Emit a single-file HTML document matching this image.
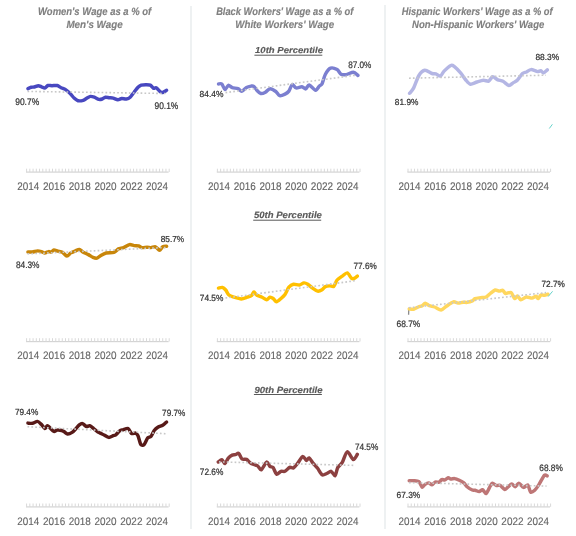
<!DOCTYPE html><html><head><meta charset="utf-8"><style>html,body{margin:0;padding:0;background:#fff;}svg{display:block;will-change:transform;}text{text-rendering:geometricPrecision;font-kerning:none;}</style></head><body>
<svg width="576" height="536" viewBox="0 0 576 536" font-family='"Liberation Sans", sans-serif'>
<rect width="576" height="536" fill="#fff"/>
<rect x="190" y="6" width="2" height="523" fill="#eef1f2"/>
<rect x="384" y="5" width="2" height="524" fill="#eef1f2"/>
<text x="37.91" y="15.30" font-size="10.756" textLength="113.30" lengthAdjust="spacingAndGlyphs" fill="#808080" font-weight="bold" font-style="italic" stroke="#808080" stroke-width="0.15" stroke-linejoin="round">Women&#39;s Wage as a % of</text>
<text x="66.43" y="27.50" font-size="10.611" textLength="56.35" lengthAdjust="spacingAndGlyphs" fill="#808080" font-weight="bold" font-style="italic" stroke="#808080" stroke-width="0.15" stroke-linejoin="round">Men&#39;s Wage</text>
<text x="216.14" y="15.30" font-size="10.756" textLength="137.29" lengthAdjust="spacingAndGlyphs" fill="#808080" font-weight="bold" font-style="italic" stroke="#808080" stroke-width="0.15" stroke-linejoin="round">Black Workers&#39; Wage as a % of</text>
<text x="235.29" y="27.60" font-size="10.683" textLength="98.88" lengthAdjust="spacingAndGlyphs" fill="#808080" font-weight="bold" font-style="italic" stroke="#808080" stroke-width="0.15" stroke-linejoin="round">White Workers&#39; Wage</text>
<text x="401.84" y="15.20" font-size="10.756" textLength="150.79" lengthAdjust="spacingAndGlyphs" fill="#808080" font-weight="bold" font-style="italic" stroke="#808080" stroke-width="0.15" stroke-linejoin="round">Hispanic Workers&#39; Wage as a % of</text>
<text x="412.03" y="27.80" font-size="10.683" textLength="132.23" lengthAdjust="spacingAndGlyphs" fill="#808080" font-weight="bold" font-style="italic" stroke="#808080" stroke-width="0.15" stroke-linejoin="round">Non-Hispanic Workers&#39; Wage</text>
<text x="255.05" y="53.30" font-size="8.694" textLength="67.92" lengthAdjust="spacingAndGlyphs" fill="#595959" font-weight="bold" font-style="italic" stroke="#595959" stroke-width="0.15" stroke-linejoin="round">10th Percentile</text>
<rect x="254.40" y="54.70" width="67.90" height="1" fill="#595959"/>
<text x="253.91" y="218.30" font-size="9.246" textLength="67.96" lengthAdjust="spacingAndGlyphs" fill="#595959" font-weight="bold" font-style="italic" stroke="#595959" stroke-width="0.15" stroke-linejoin="round">50th Percentile</text>
<rect x="253.20" y="219.70" width="68.00" height="1" fill="#595959"/>
<text x="254.48" y="392.50" font-size="8.970" textLength="68.09" lengthAdjust="spacingAndGlyphs" fill="#595959" font-weight="bold" font-style="italic" stroke="#595959" stroke-width="0.15" stroke-linejoin="round">90th Percentile</text>
<rect x="253.90" y="394.00" width="68.00" height="1" fill="#595959"/>
<rect x="26.00" y="171.50" width="142.60" height="1.2" fill="#d4d4d4"/>
<path d="M26.60 168.70v3.3M29.84 168.70v3.3M33.08 168.70v3.3M36.32 168.70v3.3M39.56 168.70v3.3M42.80 168.70v3.3M46.05 168.70v3.3M49.29 168.70v3.3M52.53 168.70v3.3M55.77 168.70v3.3M59.01 168.70v3.3M62.25 168.70v3.3M65.49 168.70v3.3M68.73 168.70v3.3M71.97 168.70v3.3M75.21 168.70v3.3M78.45 168.70v3.3M81.70 168.70v3.3M84.94 168.70v3.3M88.18 168.70v3.3M91.42 168.70v3.3M94.66 168.70v3.3M97.90 168.70v3.3M101.14 168.70v3.3M104.38 168.70v3.3M107.62 168.70v3.3M110.86 168.70v3.3M114.10 168.70v3.3M117.35 168.70v3.3M120.59 168.70v3.3M123.83 168.70v3.3M127.07 168.70v3.3M130.31 168.70v3.3M133.55 168.70v3.3M136.79 168.70v3.3M140.03 168.70v3.3M143.27 168.70v3.3M146.51 168.70v3.3M149.75 168.70v3.3M153.00 168.70v3.3M156.24 168.70v3.3M159.48 168.70v3.3M162.72 168.70v3.3M165.96 168.70v3.3M169.20 168.70v3.3" stroke="#d9d9d9" stroke-width="1" fill="none"/>
<text x="17.30" y="189.70" font-size="11.028" textLength="21.99" lengthAdjust="spacingAndGlyphs" fill="#646464" stroke="#646464" stroke-width="0.12" stroke-linejoin="round">2014</text>
<text x="43.04" y="189.70" font-size="11.028" textLength="22.14" lengthAdjust="spacingAndGlyphs" fill="#646464" stroke="#646464" stroke-width="0.12" stroke-linejoin="round">2016</text>
<text x="68.78" y="189.70" font-size="11.028" textLength="22.13" lengthAdjust="spacingAndGlyphs" fill="#646464" stroke="#646464" stroke-width="0.12" stroke-linejoin="round">2018</text>
<text x="94.52" y="189.70" font-size="11.028" textLength="22.09" lengthAdjust="spacingAndGlyphs" fill="#646464" stroke="#646464" stroke-width="0.12" stroke-linejoin="round">2020</text>
<text x="120.26" y="189.70" font-size="11.028" textLength="22.20" lengthAdjust="spacingAndGlyphs" fill="#646464" stroke="#646464" stroke-width="0.12" stroke-linejoin="round">2022</text>
<text x="146.00" y="189.70" font-size="11.028" textLength="21.99" lengthAdjust="spacingAndGlyphs" fill="#646464" stroke="#646464" stroke-width="0.12" stroke-linejoin="round">2024</text>
<path d="M27.90 88.60C28.33 88.43 30.23 87.51 31.10 87.30C31.97 87.09 33.44 87.21 34.40 87.00C35.36 86.79 37.35 85.73 38.30 85.70C39.25 85.67 40.63 86.48 41.50 86.80C42.37 87.12 43.93 88.27 44.80 88.10C45.67 87.93 47.04 85.82 48.00 85.50C48.96 85.18 50.77 85.70 52.00 85.70C53.23 85.70 55.99 85.23 57.20 85.50C58.41 85.77 59.98 87.15 61.10 87.70C62.22 88.25 64.39 88.83 65.60 89.60C66.81 90.37 69.07 92.37 70.20 93.50C71.33 94.63 73.06 97.14 74.10 98.10C75.14 99.06 76.79 100.41 78.00 100.70C79.21 100.99 81.99 100.65 83.20 100.30C84.41 99.95 86.14 98.62 87.10 98.10C88.06 97.58 89.44 96.52 90.40 96.40C91.36 96.28 93.17 96.80 94.30 97.20C95.43 97.60 97.85 99.16 98.90 99.40C99.95 99.64 101.33 99.29 102.20 99.00C103.07 98.71 104.45 97.37 105.40 97.20C106.35 97.03 108.26 97.58 109.30 97.70C110.34 97.82 112.07 97.82 113.20 98.10C114.33 98.38 116.67 99.75 117.80 99.80C118.93 99.85 120.57 98.61 121.70 98.50C122.83 98.39 125.17 99.17 126.30 99.00C127.43 98.83 129.16 98.11 130.20 97.20C131.24 96.29 133.06 93.52 134.10 92.20C135.14 90.88 137.05 88.25 138.00 87.30C138.95 86.35 140.16 85.45 141.20 85.10C142.24 84.75 144.59 84.70 145.80 84.70C147.01 84.70 149.26 84.62 150.30 85.10C151.34 85.58 152.81 87.95 153.60 88.30C154.39 88.65 155.33 87.26 156.20 87.70C157.07 88.14 159.23 90.96 160.10 91.60C160.97 92.24 161.83 92.67 162.70 92.50C163.57 92.33 166.08 90.59 166.60 90.30" fill="none" stroke="#4848c0" stroke-width="3.45" stroke-linejoin="round" stroke-linecap="round"/>
<line x1="27.5" y1="91.4" x2="165.5" y2="93.5" stroke="#c8c8c8" stroke-width="1.6" stroke-dasharray="1.7 2.2" />
<text x="15.20" y="104.90" font-size="9.596" textLength="24.00" lengthAdjust="spacingAndGlyphs" fill="#333333" stroke="#333333" stroke-width="0.22" stroke-linejoin="round">90.7%</text>
<text x="154.51" y="109.10" font-size="9.596" textLength="23.79" lengthAdjust="spacingAndGlyphs" fill="#333333" stroke="#333333" stroke-width="0.22" stroke-linejoin="round">90.1%</text>
<rect x="216.80" y="171.50" width="142.60" height="1.2" fill="#d4d4d4"/>
<path d="M217.40 168.70v3.3M220.64 168.70v3.3M223.88 168.70v3.3M227.12 168.70v3.3M230.36 168.70v3.3M233.60 168.70v3.3M236.85 168.70v3.3M240.09 168.70v3.3M243.33 168.70v3.3M246.57 168.70v3.3M249.81 168.70v3.3M253.05 168.70v3.3M256.29 168.70v3.3M259.53 168.70v3.3M262.77 168.70v3.3M266.01 168.70v3.3M269.25 168.70v3.3M272.50 168.70v3.3M275.74 168.70v3.3M278.98 168.70v3.3M282.22 168.70v3.3M285.46 168.70v3.3M288.70 168.70v3.3M291.94 168.70v3.3M295.18 168.70v3.3M298.42 168.70v3.3M301.66 168.70v3.3M304.90 168.70v3.3M308.15 168.70v3.3M311.39 168.70v3.3M314.63 168.70v3.3M317.87 168.70v3.3M321.11 168.70v3.3M324.35 168.70v3.3M327.59 168.70v3.3M330.83 168.70v3.3M334.07 168.70v3.3M337.31 168.70v3.3M340.55 168.70v3.3M343.80 168.70v3.3M347.04 168.70v3.3M350.28 168.70v3.3M353.52 168.70v3.3M356.76 168.70v3.3M360.00 168.70v3.3" stroke="#d9d9d9" stroke-width="1" fill="none"/>
<text x="207.90" y="189.70" font-size="11.028" textLength="21.99" lengthAdjust="spacingAndGlyphs" fill="#646464" stroke="#646464" stroke-width="0.12" stroke-linejoin="round">2014</text>
<text x="233.64" y="189.70" font-size="11.028" textLength="22.14" lengthAdjust="spacingAndGlyphs" fill="#646464" stroke="#646464" stroke-width="0.12" stroke-linejoin="round">2016</text>
<text x="259.38" y="189.70" font-size="11.028" textLength="22.13" lengthAdjust="spacingAndGlyphs" fill="#646464" stroke="#646464" stroke-width="0.12" stroke-linejoin="round">2018</text>
<text x="285.12" y="189.70" font-size="11.028" textLength="22.09" lengthAdjust="spacingAndGlyphs" fill="#646464" stroke="#646464" stroke-width="0.12" stroke-linejoin="round">2020</text>
<text x="310.86" y="189.70" font-size="11.028" textLength="22.20" lengthAdjust="spacingAndGlyphs" fill="#646464" stroke="#646464" stroke-width="0.12" stroke-linejoin="round">2022</text>
<text x="336.60" y="189.70" font-size="11.028" textLength="21.99" lengthAdjust="spacingAndGlyphs" fill="#646464" stroke="#646464" stroke-width="0.12" stroke-linejoin="round">2024</text>
<path d="M218.50 84.00C218.94 84.00 220.93 83.25 221.80 84.00C222.67 84.75 224.13 89.43 225.00 89.60C225.87 89.77 227.34 85.57 228.30 85.30C229.26 85.03 230.91 87.15 232.20 87.60C233.49 88.05 236.73 88.21 238.00 88.70C239.27 89.19 240.57 91.47 241.70 91.30C242.83 91.13 245.25 88.09 246.50 87.40C247.75 86.71 250.14 86.25 251.10 86.10C252.06 85.95 252.93 85.74 253.70 86.30C254.47 86.86 255.95 89.34 256.90 90.30C257.85 91.26 259.67 93.25 260.80 93.50C261.93 93.75 264.19 92.84 265.40 92.20C266.61 91.56 268.51 88.79 269.90 88.70C271.29 88.61 274.49 90.57 275.80 91.50C277.11 92.43 278.47 95.35 279.70 95.70C280.93 96.05 283.77 94.71 285.00 94.10C286.23 93.49 287.94 92.37 288.90 91.10C289.86 89.83 291.24 85.03 292.20 84.60C293.16 84.17 294.81 87.61 296.10 87.90C297.39 88.19 300.61 86.67 301.90 86.80C303.19 86.93 304.84 89.14 305.80 88.90C306.76 88.66 307.79 84.83 309.10 85.00C310.41 85.17 314.21 90.08 315.60 90.20C316.99 90.32 318.63 86.77 319.50 85.90C320.37 85.03 321.31 85.26 322.10 83.70C322.89 82.14 324.27 76.28 325.40 74.20C326.53 72.12 329.04 68.71 330.60 68.10C332.16 67.49 335.71 68.79 337.10 69.60C338.49 70.41 339.79 73.53 341.00 74.20C342.21 74.87 344.55 74.87 346.20 74.60C347.85 74.33 351.84 72.08 353.40 72.20C354.96 72.32 357.30 75.06 357.90 75.50" fill="none" stroke="#7b7fd0" stroke-width="3.45" stroke-linejoin="round" stroke-linecap="round"/>
<line x1="225.5" y1="92.63" x2="355" y2="75.3" stroke="#c8c8c8" stroke-width="1.6" stroke-dasharray="1.7 2.2" />
<text x="199.53" y="96.80" font-size="8.879" textLength="23.87" lengthAdjust="spacingAndGlyphs" fill="#333333" stroke="#333333" stroke-width="0.22" stroke-linejoin="round">84.4%</text>
<text x="348.14" y="67.80" font-size="9.381" textLength="23.25" lengthAdjust="spacingAndGlyphs" fill="#333333" stroke="#333333" stroke-width="0.22" stroke-linejoin="round">87.0%</text>
<rect x="407.40" y="171.50" width="142.60" height="1.2" fill="#d4d4d4"/>
<path d="M408.00 168.70v3.3M411.24 168.70v3.3M414.48 168.70v3.3M417.72 168.70v3.3M420.96 168.70v3.3M424.20 168.70v3.3M427.45 168.70v3.3M430.69 168.70v3.3M433.93 168.70v3.3M437.17 168.70v3.3M440.41 168.70v3.3M443.65 168.70v3.3M446.89 168.70v3.3M450.13 168.70v3.3M453.37 168.70v3.3M456.61 168.70v3.3M459.85 168.70v3.3M463.10 168.70v3.3M466.34 168.70v3.3M469.58 168.70v3.3M472.82 168.70v3.3M476.06 168.70v3.3M479.30 168.70v3.3M482.54 168.70v3.3M485.78 168.70v3.3M489.02 168.70v3.3M492.26 168.70v3.3M495.50 168.70v3.3M498.75 168.70v3.3M501.99 168.70v3.3M505.23 168.70v3.3M508.47 168.70v3.3M511.71 168.70v3.3M514.95 168.70v3.3M518.19 168.70v3.3M521.43 168.70v3.3M524.67 168.70v3.3M527.91 168.70v3.3M531.15 168.70v3.3M534.40 168.70v3.3M537.64 168.70v3.3M540.88 168.70v3.3M544.12 168.70v3.3M547.36 168.70v3.3M550.60 168.70v3.3" stroke="#d9d9d9" stroke-width="1" fill="none"/>
<text x="398.40" y="189.70" font-size="11.028" textLength="21.99" lengthAdjust="spacingAndGlyphs" fill="#646464" stroke="#646464" stroke-width="0.12" stroke-linejoin="round">2014</text>
<text x="424.14" y="189.70" font-size="11.028" textLength="22.14" lengthAdjust="spacingAndGlyphs" fill="#646464" stroke="#646464" stroke-width="0.12" stroke-linejoin="round">2016</text>
<text x="449.88" y="189.70" font-size="11.028" textLength="22.13" lengthAdjust="spacingAndGlyphs" fill="#646464" stroke="#646464" stroke-width="0.12" stroke-linejoin="round">2018</text>
<text x="475.62" y="189.70" font-size="11.028" textLength="22.09" lengthAdjust="spacingAndGlyphs" fill="#646464" stroke="#646464" stroke-width="0.12" stroke-linejoin="round">2020</text>
<text x="501.36" y="189.70" font-size="11.028" textLength="22.20" lengthAdjust="spacingAndGlyphs" fill="#646464" stroke="#646464" stroke-width="0.12" stroke-linejoin="round">2022</text>
<text x="527.10" y="189.70" font-size="11.028" textLength="21.99" lengthAdjust="spacingAndGlyphs" fill="#646464" stroke="#646464" stroke-width="0.12" stroke-linejoin="round">2024</text>
<path d="M409.60 93.30C410.15 92.58 412.46 90.27 413.70 87.90C414.94 85.53 417.42 77.85 418.90 75.50C420.38 73.15 423.05 70.57 424.80 70.30C426.55 70.03 430.52 73.03 432.00 73.50C433.48 73.97 434.78 73.45 435.90 73.80C437.02 74.15 439.28 76.49 440.40 76.10C441.52 75.71 442.91 72.31 444.30 70.90C445.69 69.49 449.49 66.10 450.80 65.50C452.11 64.90 452.79 65.41 454.10 66.40C455.41 67.39 459.04 71.09 460.60 72.90C462.16 74.71 464.49 78.49 465.80 80.00C467.11 81.51 468.91 83.93 470.40 84.20C471.89 84.47 475.25 82.52 477.00 82.00C478.75 81.48 481.94 80.42 483.50 80.30C485.06 80.18 487.49 81.57 488.70 81.10C489.91 80.63 491.39 76.97 492.60 76.80C493.81 76.63 496.41 79.20 497.80 79.80C499.19 80.40 501.52 80.54 503.00 81.30C504.48 82.06 507.51 85.33 508.90 85.50C510.29 85.67 512.28 83.29 513.40 82.60C514.52 81.91 516.09 81.51 517.30 80.30C518.51 79.09 521.29 74.61 522.50 73.50C523.71 72.39 525.27 72.52 526.40 72.00C527.53 71.48 529.52 69.65 531.00 69.60C532.48 69.55 536.19 71.45 537.50 71.60C538.81 71.75 540.01 70.53 540.80 70.70C541.59 70.87 542.53 73.01 543.40 72.90C544.27 72.79 546.78 70.30 547.30 69.90" fill="none" stroke="#b4b6e4" stroke-width="3.45" stroke-linejoin="round" stroke-linecap="round"/>
<line x1="409" y1="78.2" x2="546" y2="75.2" stroke="#c8c8c8" stroke-width="1.6" stroke-dasharray="1.7 2.2" />
<line x1="549.3" y1="128.5" x2="552.4" y2="124.3" stroke="#66d3cb" stroke-width="1.0"/>
<text x="394.84" y="104.90" font-size="8.879" textLength="23.56" lengthAdjust="spacingAndGlyphs" fill="#333333" stroke="#333333" stroke-width="0.22" stroke-linejoin="round">81.9%</text>
<text x="535.43" y="59.80" font-size="8.879" textLength="23.87" lengthAdjust="spacingAndGlyphs" fill="#333333" stroke="#333333" stroke-width="0.22" stroke-linejoin="round">88.3%</text>
<rect x="26.00" y="341.00" width="142.60" height="1.2" fill="#d4d4d4"/>
<path d="M26.60 338.20v3.3M29.84 338.20v3.3M33.08 338.20v3.3M36.32 338.20v3.3M39.56 338.20v3.3M42.80 338.20v3.3M46.05 338.20v3.3M49.29 338.20v3.3M52.53 338.20v3.3M55.77 338.20v3.3M59.01 338.20v3.3M62.25 338.20v3.3M65.49 338.20v3.3M68.73 338.20v3.3M71.97 338.20v3.3M75.21 338.20v3.3M78.45 338.20v3.3M81.70 338.20v3.3M84.94 338.20v3.3M88.18 338.20v3.3M91.42 338.20v3.3M94.66 338.20v3.3M97.90 338.20v3.3M101.14 338.20v3.3M104.38 338.20v3.3M107.62 338.20v3.3M110.86 338.20v3.3M114.10 338.20v3.3M117.35 338.20v3.3M120.59 338.20v3.3M123.83 338.20v3.3M127.07 338.20v3.3M130.31 338.20v3.3M133.55 338.20v3.3M136.79 338.20v3.3M140.03 338.20v3.3M143.27 338.20v3.3M146.51 338.20v3.3M149.75 338.20v3.3M153.00 338.20v3.3M156.24 338.20v3.3M159.48 338.20v3.3M162.72 338.20v3.3M165.96 338.20v3.3M169.20 338.20v3.3" stroke="#d9d9d9" stroke-width="1" fill="none"/>
<text x="17.30" y="359.20" font-size="10.884" textLength="21.99" lengthAdjust="spacingAndGlyphs" fill="#646464" stroke="#646464" stroke-width="0.12" stroke-linejoin="round">2014</text>
<text x="43.04" y="359.20" font-size="10.884" textLength="22.14" lengthAdjust="spacingAndGlyphs" fill="#646464" stroke="#646464" stroke-width="0.12" stroke-linejoin="round">2016</text>
<text x="68.78" y="359.20" font-size="10.884" textLength="22.13" lengthAdjust="spacingAndGlyphs" fill="#646464" stroke="#646464" stroke-width="0.12" stroke-linejoin="round">2018</text>
<text x="94.52" y="359.20" font-size="10.884" textLength="22.09" lengthAdjust="spacingAndGlyphs" fill="#646464" stroke="#646464" stroke-width="0.12" stroke-linejoin="round">2020</text>
<text x="120.26" y="359.20" font-size="10.884" textLength="22.20" lengthAdjust="spacingAndGlyphs" fill="#646464" stroke="#646464" stroke-width="0.12" stroke-linejoin="round">2022</text>
<text x="146.00" y="359.20" font-size="10.884" textLength="21.99" lengthAdjust="spacingAndGlyphs" fill="#646464" stroke="#646464" stroke-width="0.12" stroke-linejoin="round">2024</text>
<path d="M27.90 252.00C28.50 252.00 31.11 252.15 32.40 252.00C33.69 251.85 36.39 250.95 37.60 250.90C38.81 250.85 40.54 251.33 41.50 251.60C42.46 251.87 43.84 252.90 44.80 252.90C45.76 252.90 47.83 251.72 48.70 251.60C49.57 251.48 50.61 252.23 51.30 252.00C51.99 251.77 53.03 250.01 53.90 249.90C54.77 249.79 56.67 250.89 57.80 251.20C58.93 251.51 61.19 251.55 62.40 252.20C63.61 252.85 65.78 256.01 66.90 256.10C68.02 256.19 69.67 253.59 70.80 252.90C71.93 252.21 74.27 251.37 75.40 250.90C76.53 250.43 78.26 249.23 79.30 249.40C80.34 249.57 81.99 251.51 83.20 252.20C84.41 252.89 87.09 253.91 88.40 254.60C89.71 255.29 91.85 256.93 93.00 257.40C94.15 257.87 96.04 258.30 97.00 258.10C97.96 257.90 98.99 256.58 100.20 255.90C101.41 255.22 104.27 253.47 106.10 253.00C107.93 252.53 112.26 252.95 113.90 252.40C115.54 251.85 117.11 249.54 118.40 248.90C119.69 248.26 122.12 248.17 123.60 247.60C125.08 247.03 128.10 244.87 129.50 244.60C130.90 244.33 132.89 245.43 134.10 245.60C135.31 245.77 137.56 245.63 138.60 245.90C139.64 246.17 140.77 247.43 141.90 247.60C143.03 247.77 145.89 247.20 147.10 247.20C148.31 247.20 149.88 247.65 151.00 247.60C152.12 247.55 154.37 246.45 155.50 246.80C156.63 247.15 158.54 250.20 159.50 250.20C160.46 250.20 161.75 247.32 162.70 246.80C163.65 246.28 166.08 246.37 166.60 246.30" fill="none" stroke="#c8860a" stroke-width="3.45" stroke-linejoin="round" stroke-linecap="round"/>
<line x1="27.5" y1="253.9" x2="166" y2="247.5" stroke="#c8c8c8" stroke-width="1.6" stroke-dasharray="1.7 2.2" />
<text x="15.89" y="267.80" font-size="9.381" textLength="23.61" lengthAdjust="spacingAndGlyphs" fill="#333333" stroke="#333333" stroke-width="0.22" stroke-linejoin="round">84.3%</text>
<text x="160.64" y="241.90" font-size="8.736" textLength="23.66" lengthAdjust="spacingAndGlyphs" fill="#333333" stroke="#333333" stroke-width="0.22" stroke-linejoin="round">85.7%</text>
<rect x="216.80" y="341.00" width="142.60" height="1.2" fill="#d4d4d4"/>
<path d="M217.40 338.20v3.3M220.64 338.20v3.3M223.88 338.20v3.3M227.12 338.20v3.3M230.36 338.20v3.3M233.60 338.20v3.3M236.85 338.20v3.3M240.09 338.20v3.3M243.33 338.20v3.3M246.57 338.20v3.3M249.81 338.20v3.3M253.05 338.20v3.3M256.29 338.20v3.3M259.53 338.20v3.3M262.77 338.20v3.3M266.01 338.20v3.3M269.25 338.20v3.3M272.50 338.20v3.3M275.74 338.20v3.3M278.98 338.20v3.3M282.22 338.20v3.3M285.46 338.20v3.3M288.70 338.20v3.3M291.94 338.20v3.3M295.18 338.20v3.3M298.42 338.20v3.3M301.66 338.20v3.3M304.90 338.20v3.3M308.15 338.20v3.3M311.39 338.20v3.3M314.63 338.20v3.3M317.87 338.20v3.3M321.11 338.20v3.3M324.35 338.20v3.3M327.59 338.20v3.3M330.83 338.20v3.3M334.07 338.20v3.3M337.31 338.20v3.3M340.55 338.20v3.3M343.80 338.20v3.3M347.04 338.20v3.3M350.28 338.20v3.3M353.52 338.20v3.3M356.76 338.20v3.3M360.00 338.20v3.3" stroke="#d9d9d9" stroke-width="1" fill="none"/>
<text x="207.90" y="359.20" font-size="10.884" textLength="21.99" lengthAdjust="spacingAndGlyphs" fill="#646464" stroke="#646464" stroke-width="0.12" stroke-linejoin="round">2014</text>
<text x="233.64" y="359.20" font-size="10.884" textLength="22.14" lengthAdjust="spacingAndGlyphs" fill="#646464" stroke="#646464" stroke-width="0.12" stroke-linejoin="round">2016</text>
<text x="259.38" y="359.20" font-size="10.884" textLength="22.13" lengthAdjust="spacingAndGlyphs" fill="#646464" stroke="#646464" stroke-width="0.12" stroke-linejoin="round">2018</text>
<text x="285.12" y="359.20" font-size="10.884" textLength="22.09" lengthAdjust="spacingAndGlyphs" fill="#646464" stroke="#646464" stroke-width="0.12" stroke-linejoin="round">2020</text>
<text x="310.86" y="359.20" font-size="10.884" textLength="22.20" lengthAdjust="spacingAndGlyphs" fill="#646464" stroke="#646464" stroke-width="0.12" stroke-linejoin="round">2022</text>
<text x="336.60" y="359.20" font-size="10.884" textLength="21.99" lengthAdjust="spacingAndGlyphs" fill="#646464" stroke="#646464" stroke-width="0.12" stroke-linejoin="round">2024</text>
<path d="M218.50 288.10C219.02 288.01 221.44 287.15 222.40 287.40C223.36 287.65 224.83 288.99 225.70 290.00C226.57 291.01 227.78 294.04 228.90 295.00C230.02 295.96 232.45 296.68 234.10 297.20C235.75 297.72 239.55 298.90 241.30 298.90C243.05 298.90 245.81 297.68 247.20 297.20C248.59 296.72 250.81 295.99 251.70 295.30C252.59 294.61 253.21 292.00 253.90 292.00C254.59 292.00 255.81 294.61 256.90 295.30C257.99 295.99 260.79 296.60 262.10 297.20C263.41 297.80 265.66 299.80 266.70 299.80C267.74 299.80 269.03 297.37 269.90 297.20C270.77 297.03 272.32 297.89 273.20 298.50C274.08 299.11 275.46 301.80 276.50 301.80C277.54 301.80 279.87 299.49 281.00 298.50C282.13 297.51 283.95 295.91 285.00 294.40C286.05 292.89 287.77 288.56 288.90 287.20C290.03 285.84 292.11 284.49 293.50 284.20C294.89 283.91 297.91 285.17 299.30 285.00C300.69 284.83 302.77 283.01 303.90 282.90C305.03 282.79 306.68 283.53 307.80 284.20C308.92 284.87 310.99 286.98 312.30 287.90C313.61 288.82 316.29 290.85 317.60 291.10C318.91 291.35 321.06 290.40 322.10 289.80C323.14 289.20 324.36 287.12 325.40 286.60C326.44 286.08 328.78 285.94 329.90 285.90C331.02 285.86 332.84 287.09 333.80 286.30C334.76 285.51 335.97 281.36 337.10 280.00C338.23 278.64 340.95 277.05 342.30 276.10C343.65 275.15 345.99 272.63 347.20 272.90C348.41 273.17 350.49 277.35 351.40 278.10C352.31 278.85 353.21 278.77 354.00 278.50C354.79 278.23 356.86 276.42 357.30 276.10" fill="none" stroke="#ffc000" stroke-width="3.45" stroke-linejoin="round" stroke-linecap="round"/>
<line x1="225.5" y1="298.0" x2="355" y2="280.8" stroke="#c8c8c8" stroke-width="1.6" stroke-dasharray="1.7 2.2" />
<text x="199.77" y="300.50" font-size="8.936" textLength="23.62" lengthAdjust="spacingAndGlyphs" fill="#333333" stroke="#333333" stroke-width="0.22" stroke-linejoin="round">74.5%</text>
<text x="353.48" y="268.90" font-size="9.023" textLength="23.31" lengthAdjust="spacingAndGlyphs" fill="#333333" stroke="#333333" stroke-width="0.22" stroke-linejoin="round">77.6%</text>
<rect x="407.40" y="341.00" width="142.60" height="1.2" fill="#d4d4d4"/>
<path d="M408.00 338.20v3.3M411.24 338.20v3.3M414.48 338.20v3.3M417.72 338.20v3.3M420.96 338.20v3.3M424.20 338.20v3.3M427.45 338.20v3.3M430.69 338.20v3.3M433.93 338.20v3.3M437.17 338.20v3.3M440.41 338.20v3.3M443.65 338.20v3.3M446.89 338.20v3.3M450.13 338.20v3.3M453.37 338.20v3.3M456.61 338.20v3.3M459.85 338.20v3.3M463.10 338.20v3.3M466.34 338.20v3.3M469.58 338.20v3.3M472.82 338.20v3.3M476.06 338.20v3.3M479.30 338.20v3.3M482.54 338.20v3.3M485.78 338.20v3.3M489.02 338.20v3.3M492.26 338.20v3.3M495.50 338.20v3.3M498.75 338.20v3.3M501.99 338.20v3.3M505.23 338.20v3.3M508.47 338.20v3.3M511.71 338.20v3.3M514.95 338.20v3.3M518.19 338.20v3.3M521.43 338.20v3.3M524.67 338.20v3.3M527.91 338.20v3.3M531.15 338.20v3.3M534.40 338.20v3.3M537.64 338.20v3.3M540.88 338.20v3.3M544.12 338.20v3.3M547.36 338.20v3.3M550.60 338.20v3.3" stroke="#d9d9d9" stroke-width="1" fill="none"/>
<text x="398.40" y="359.20" font-size="10.884" textLength="21.99" lengthAdjust="spacingAndGlyphs" fill="#646464" stroke="#646464" stroke-width="0.12" stroke-linejoin="round">2014</text>
<text x="424.14" y="359.20" font-size="10.884" textLength="22.14" lengthAdjust="spacingAndGlyphs" fill="#646464" stroke="#646464" stroke-width="0.12" stroke-linejoin="round">2016</text>
<text x="449.88" y="359.20" font-size="10.884" textLength="22.13" lengthAdjust="spacingAndGlyphs" fill="#646464" stroke="#646464" stroke-width="0.12" stroke-linejoin="round">2018</text>
<text x="475.62" y="359.20" font-size="10.884" textLength="22.09" lengthAdjust="spacingAndGlyphs" fill="#646464" stroke="#646464" stroke-width="0.12" stroke-linejoin="round">2020</text>
<text x="501.36" y="359.20" font-size="10.884" textLength="22.20" lengthAdjust="spacingAndGlyphs" fill="#646464" stroke="#646464" stroke-width="0.12" stroke-linejoin="round">2022</text>
<text x="527.10" y="359.20" font-size="10.884" textLength="21.99" lengthAdjust="spacingAndGlyphs" fill="#646464" stroke="#646464" stroke-width="0.12" stroke-linejoin="round">2024</text>
<line x1="408.8" y1="307.8" x2="408.6" y2="314.8" stroke="#8c8c8c" stroke-width="1.3"/>
<path d="M409.20 308.90C409.80 308.94 412.49 309.45 413.70 309.20C414.91 308.95 417.17 307.47 418.30 307.00C419.43 306.53 421.28 306.22 422.20 305.70C423.12 305.18 424.25 303.10 425.20 303.10C426.15 303.10 428.05 305.18 429.30 305.70C430.55 306.22 433.03 306.43 434.60 307.00C436.17 307.57 439.54 310.09 441.10 310.00C442.66 309.91 444.66 307.39 446.30 306.30C447.94 305.21 451.84 302.23 453.40 301.80C454.96 301.37 456.69 303.05 458.00 303.10C459.31 303.15 461.99 302.29 463.20 302.20C464.41 302.11 465.89 302.57 467.10 302.40C468.31 302.23 471.25 301.41 472.30 300.90C473.35 300.39 473.89 299.03 475.00 298.60C476.11 298.17 479.12 297.91 480.60 297.70C482.08 297.49 484.81 297.56 486.10 297.00C487.39 296.44 489.10 294.43 490.30 293.50C491.50 292.57 493.90 290.32 495.10 290.00C496.30 289.68 498.27 291.06 499.30 291.10C500.33 291.14 501.96 289.98 502.80 290.30C503.64 290.62 504.49 293.21 505.60 293.50C506.71 293.79 509.90 291.82 511.10 292.50C512.30 293.18 513.76 298.15 514.60 298.60C515.44 299.05 516.57 295.75 517.40 295.90C518.23 296.05 519.60 299.55 520.80 299.70C522.00 299.85 524.91 297.21 526.40 297.00C527.89 296.79 530.71 298.19 532.00 298.10C533.29 298.01 535.27 296.23 536.10 296.30C536.93 296.37 537.55 298.79 538.20 298.60C538.85 298.41 540.17 295.34 541.00 294.90C541.83 294.46 543.48 295.39 544.40 295.30C545.32 295.21 547.43 294.35 547.90 294.20" fill="none" stroke="#ffd75e" stroke-width="3.45" stroke-linejoin="round" stroke-linecap="round"/>
<line x1="409" y1="307.8" x2="546" y2="292.6" stroke="#c8c8c8" stroke-width="1.6" stroke-dasharray="1.7 2.2" />
<line x1="548.1" y1="296.6" x2="552.6" y2="291.3" stroke="#66d3cb" stroke-width="1.0"/>
<text x="396.47" y="327.10" font-size="9.309" textLength="23.83" lengthAdjust="spacingAndGlyphs" fill="#333333" stroke="#333333" stroke-width="0.22" stroke-linejoin="round">68.7%</text>
<text x="541.47" y="287.00" font-size="8.951" textLength="23.52" lengthAdjust="spacingAndGlyphs" fill="#333333" stroke="#333333" stroke-width="0.22" stroke-linejoin="round">72.7%</text>
<rect x="26.00" y="506.30" width="142.60" height="1.2" fill="#d4d4d4"/>
<path d="M26.60 503.50v3.3M29.84 503.50v3.3M33.08 503.50v3.3M36.32 503.50v3.3M39.56 503.50v3.3M42.80 503.50v3.3M46.05 503.50v3.3M49.29 503.50v3.3M52.53 503.50v3.3M55.77 503.50v3.3M59.01 503.50v3.3M62.25 503.50v3.3M65.49 503.50v3.3M68.73 503.50v3.3M71.97 503.50v3.3M75.21 503.50v3.3M78.45 503.50v3.3M81.70 503.50v3.3M84.94 503.50v3.3M88.18 503.50v3.3M91.42 503.50v3.3M94.66 503.50v3.3M97.90 503.50v3.3M101.14 503.50v3.3M104.38 503.50v3.3M107.62 503.50v3.3M110.86 503.50v3.3M114.10 503.50v3.3M117.35 503.50v3.3M120.59 503.50v3.3M123.83 503.50v3.3M127.07 503.50v3.3M130.31 503.50v3.3M133.55 503.50v3.3M136.79 503.50v3.3M140.03 503.50v3.3M143.27 503.50v3.3M146.51 503.50v3.3M149.75 503.50v3.3M153.00 503.50v3.3M156.24 503.50v3.3M159.48 503.50v3.3M162.72 503.50v3.3M165.96 503.50v3.3M169.20 503.50v3.3" stroke="#d9d9d9" stroke-width="1" fill="none"/>
<text x="17.30" y="524.60" font-size="10.884" textLength="21.99" lengthAdjust="spacingAndGlyphs" fill="#646464" stroke="#646464" stroke-width="0.12" stroke-linejoin="round">2014</text>
<text x="43.04" y="524.60" font-size="10.884" textLength="22.14" lengthAdjust="spacingAndGlyphs" fill="#646464" stroke="#646464" stroke-width="0.12" stroke-linejoin="round">2016</text>
<text x="68.78" y="524.60" font-size="10.884" textLength="22.13" lengthAdjust="spacingAndGlyphs" fill="#646464" stroke="#646464" stroke-width="0.12" stroke-linejoin="round">2018</text>
<text x="94.52" y="524.60" font-size="10.884" textLength="22.09" lengthAdjust="spacingAndGlyphs" fill="#646464" stroke="#646464" stroke-width="0.12" stroke-linejoin="round">2020</text>
<text x="120.26" y="524.60" font-size="10.884" textLength="22.20" lengthAdjust="spacingAndGlyphs" fill="#646464" stroke="#646464" stroke-width="0.12" stroke-linejoin="round">2022</text>
<text x="146.00" y="524.60" font-size="10.884" textLength="21.99" lengthAdjust="spacingAndGlyphs" fill="#646464" stroke="#646464" stroke-width="0.12" stroke-linejoin="round">2024</text>
<path d="M27.90 423.10C28.50 423.13 31.11 423.53 32.40 423.30C33.69 423.07 36.39 421.23 37.60 421.40C38.81 421.57 40.54 423.65 41.50 424.60C42.46 425.55 44.01 428.35 44.80 428.50C45.59 428.65 46.71 425.78 47.40 425.70C48.09 425.62 49.13 427.14 50.00 427.90C50.87 428.66 52.94 431.11 53.90 431.40C54.86 431.69 56.16 430.22 57.20 430.10C58.24 429.98 60.75 430.27 61.70 430.50C62.65 430.73 63.51 431.33 64.30 431.80C65.09 432.27 66.56 433.92 67.60 434.00C68.64 434.08 71.06 433.04 72.10 432.40C73.14 431.76 74.44 430.20 75.40 429.20C76.36 428.20 78.35 425.65 79.30 424.90C80.25 424.15 81.54 423.37 82.50 423.60C83.46 423.83 85.54 426.32 86.50 426.60C87.46 426.88 88.75 425.45 89.70 425.70C90.65 425.95 92.63 427.74 93.60 428.50C94.57 429.26 96.12 430.79 97.00 431.40C97.88 432.01 99.25 432.62 100.20 433.10C101.15 433.58 102.97 434.43 104.10 435.00C105.23 435.57 107.49 437.31 108.70 437.40C109.91 437.49 112.25 436.05 113.20 435.70C114.15 435.35 114.93 435.44 115.80 434.80C116.67 434.16 118.74 431.57 119.70 430.90C120.66 430.23 121.87 430.12 123.00 429.80C124.13 429.48 127.07 428.01 128.20 428.50C129.33 428.99 130.54 432.89 131.50 433.50C132.46 434.11 134.53 432.81 135.40 433.10C136.27 433.39 137.28 434.19 138.00 435.70C138.72 437.21 139.97 443.24 140.80 444.40C141.63 445.56 143.28 445.27 144.20 444.40C145.12 443.53 146.79 438.98 147.70 437.90C148.61 436.82 150.13 437.29 151.00 436.30C151.87 435.31 153.24 431.74 154.20 430.50C155.16 429.26 157.07 427.69 158.20 427.00C159.33 426.31 161.58 425.97 162.70 425.30C163.82 424.63 166.08 422.44 166.60 422.00" fill="none" stroke="#581a18" stroke-width="3.45" stroke-linejoin="round" stroke-linecap="round"/>
<line x1="27.5" y1="426.7" x2="165.5" y2="433.7" stroke="#c8c8c8" stroke-width="1.6" stroke-dasharray="1.7 2.2" />
<text x="14.88" y="414.70" font-size="8.879" textLength="23.42" lengthAdjust="spacingAndGlyphs" fill="#333333" stroke="#333333" stroke-width="0.22" stroke-linejoin="round">79.4%</text>
<text x="162.08" y="416.10" font-size="9.166" textLength="23.31" lengthAdjust="spacingAndGlyphs" fill="#333333" stroke="#333333" stroke-width="0.22" stroke-linejoin="round">79.7%</text>
<rect x="216.80" y="506.30" width="142.60" height="1.2" fill="#d4d4d4"/>
<path d="M217.40 503.50v3.3M220.64 503.50v3.3M223.88 503.50v3.3M227.12 503.50v3.3M230.36 503.50v3.3M233.60 503.50v3.3M236.85 503.50v3.3M240.09 503.50v3.3M243.33 503.50v3.3M246.57 503.50v3.3M249.81 503.50v3.3M253.05 503.50v3.3M256.29 503.50v3.3M259.53 503.50v3.3M262.77 503.50v3.3M266.01 503.50v3.3M269.25 503.50v3.3M272.50 503.50v3.3M275.74 503.50v3.3M278.98 503.50v3.3M282.22 503.50v3.3M285.46 503.50v3.3M288.70 503.50v3.3M291.94 503.50v3.3M295.18 503.50v3.3M298.42 503.50v3.3M301.66 503.50v3.3M304.90 503.50v3.3M308.15 503.50v3.3M311.39 503.50v3.3M314.63 503.50v3.3M317.87 503.50v3.3M321.11 503.50v3.3M324.35 503.50v3.3M327.59 503.50v3.3M330.83 503.50v3.3M334.07 503.50v3.3M337.31 503.50v3.3M340.55 503.50v3.3M343.80 503.50v3.3M347.04 503.50v3.3M350.28 503.50v3.3M353.52 503.50v3.3M356.76 503.50v3.3M360.00 503.50v3.3" stroke="#d9d9d9" stroke-width="1" fill="none"/>
<text x="207.90" y="524.60" font-size="10.884" textLength="21.99" lengthAdjust="spacingAndGlyphs" fill="#646464" stroke="#646464" stroke-width="0.12" stroke-linejoin="round">2014</text>
<text x="233.64" y="524.60" font-size="10.884" textLength="22.14" lengthAdjust="spacingAndGlyphs" fill="#646464" stroke="#646464" stroke-width="0.12" stroke-linejoin="round">2016</text>
<text x="259.38" y="524.60" font-size="10.884" textLength="22.13" lengthAdjust="spacingAndGlyphs" fill="#646464" stroke="#646464" stroke-width="0.12" stroke-linejoin="round">2018</text>
<text x="285.12" y="524.60" font-size="10.884" textLength="22.09" lengthAdjust="spacingAndGlyphs" fill="#646464" stroke="#646464" stroke-width="0.12" stroke-linejoin="round">2020</text>
<text x="310.86" y="524.60" font-size="10.884" textLength="22.20" lengthAdjust="spacingAndGlyphs" fill="#646464" stroke="#646464" stroke-width="0.12" stroke-linejoin="round">2022</text>
<text x="336.60" y="524.60" font-size="10.884" textLength="21.99" lengthAdjust="spacingAndGlyphs" fill="#646464" stroke="#646464" stroke-width="0.12" stroke-linejoin="round">2024</text>
<path d="M218.30 462.00C218.77 461.68 220.91 459.40 221.80 459.60C222.69 459.80 224.13 463.70 225.00 463.50C225.87 463.30 227.34 459.22 228.30 458.10C229.26 456.98 231.25 455.55 232.20 455.10C233.15 454.65 234.53 454.93 235.40 454.70C236.27 454.47 237.82 452.83 238.70 453.40C239.58 453.97 240.96 458.20 242.00 459.00C243.04 459.80 245.29 458.80 246.50 459.40C247.71 460.00 249.62 462.63 251.10 463.50C252.58 464.37 256.25 465.06 257.60 465.90C258.95 466.74 259.99 470.32 261.20 469.80C262.41 469.28 265.54 462.45 266.70 462.00C267.86 461.55 269.03 465.64 269.90 466.40C270.77 467.16 272.32 466.66 273.20 467.70C274.08 468.74 275.46 473.72 276.50 474.20C277.54 474.68 279.87 471.69 281.00 471.30C282.13 470.91 283.85 471.82 285.00 471.30C286.15 470.78 288.47 467.85 289.60 467.40C290.73 466.95 292.46 468.39 293.50 467.90C294.54 467.41 296.19 465.21 297.40 463.70C298.61 462.19 301.39 457.03 302.60 456.60C303.81 456.17 305.63 460.33 306.50 460.50C307.37 460.67 308.23 457.55 309.10 457.90C309.97 458.25 311.87 461.71 313.00 463.10C314.13 464.49 316.39 466.74 317.60 468.30C318.81 469.86 320.89 474.11 322.10 474.80C323.31 475.49 325.49 473.97 326.70 473.50C327.91 473.03 330.08 471.01 331.20 471.30C332.32 471.59 334.23 476.19 335.10 475.70C335.97 475.21 336.74 469.37 337.70 467.60C338.66 465.83 341.03 464.51 342.30 462.40C343.57 460.29 345.72 452.17 347.20 451.80C348.68 451.43 352.05 459.25 353.40 459.60C354.75 459.95 356.78 455.09 357.30 454.40" fill="none" stroke="#8c4040" stroke-width="3.45" stroke-linejoin="round" stroke-linecap="round"/>
<line x1="219" y1="461.9" x2="355.5" y2="465.4" stroke="#c8c8c8" stroke-width="1.6" stroke-dasharray="1.7 2.2" />
<text x="199.77" y="475.10" font-size="9.309" textLength="23.62" lengthAdjust="spacingAndGlyphs" fill="#333333" stroke="#333333" stroke-width="0.22" stroke-linejoin="round">72.6%</text>
<text x="354.88" y="450.30" font-size="9.224" textLength="23.42" lengthAdjust="spacingAndGlyphs" fill="#333333" stroke="#333333" stroke-width="0.22" stroke-linejoin="round">74.5%</text>
<rect x="407.40" y="506.30" width="142.60" height="1.2" fill="#d4d4d4"/>
<path d="M408.00 503.50v3.3M411.24 503.50v3.3M414.48 503.50v3.3M417.72 503.50v3.3M420.96 503.50v3.3M424.20 503.50v3.3M427.45 503.50v3.3M430.69 503.50v3.3M433.93 503.50v3.3M437.17 503.50v3.3M440.41 503.50v3.3M443.65 503.50v3.3M446.89 503.50v3.3M450.13 503.50v3.3M453.37 503.50v3.3M456.61 503.50v3.3M459.85 503.50v3.3M463.10 503.50v3.3M466.34 503.50v3.3M469.58 503.50v3.3M472.82 503.50v3.3M476.06 503.50v3.3M479.30 503.50v3.3M482.54 503.50v3.3M485.78 503.50v3.3M489.02 503.50v3.3M492.26 503.50v3.3M495.50 503.50v3.3M498.75 503.50v3.3M501.99 503.50v3.3M505.23 503.50v3.3M508.47 503.50v3.3M511.71 503.50v3.3M514.95 503.50v3.3M518.19 503.50v3.3M521.43 503.50v3.3M524.67 503.50v3.3M527.91 503.50v3.3M531.15 503.50v3.3M534.40 503.50v3.3M537.64 503.50v3.3M540.88 503.50v3.3M544.12 503.50v3.3M547.36 503.50v3.3M550.60 503.50v3.3" stroke="#d9d9d9" stroke-width="1" fill="none"/>
<text x="398.40" y="524.60" font-size="10.884" textLength="21.99" lengthAdjust="spacingAndGlyphs" fill="#646464" stroke="#646464" stroke-width="0.12" stroke-linejoin="round">2014</text>
<text x="424.14" y="524.60" font-size="10.884" textLength="22.14" lengthAdjust="spacingAndGlyphs" fill="#646464" stroke="#646464" stroke-width="0.12" stroke-linejoin="round">2016</text>
<text x="449.88" y="524.60" font-size="10.884" textLength="22.13" lengthAdjust="spacingAndGlyphs" fill="#646464" stroke="#646464" stroke-width="0.12" stroke-linejoin="round">2018</text>
<text x="475.62" y="524.60" font-size="10.884" textLength="22.09" lengthAdjust="spacingAndGlyphs" fill="#646464" stroke="#646464" stroke-width="0.12" stroke-linejoin="round">2020</text>
<text x="501.36" y="524.60" font-size="10.884" textLength="22.20" lengthAdjust="spacingAndGlyphs" fill="#646464" stroke="#646464" stroke-width="0.12" stroke-linejoin="round">2022</text>
<text x="527.10" y="524.60" font-size="10.884" textLength="21.99" lengthAdjust="spacingAndGlyphs" fill="#646464" stroke="#646464" stroke-width="0.12" stroke-linejoin="round">2024</text>
<path d="M409.20 480.70C409.80 480.70 412.41 480.58 413.70 480.70C414.99 480.82 417.77 480.73 418.90 481.60C420.03 482.47 421.41 486.80 422.20 487.20C422.99 487.60 423.93 485.17 424.80 484.60C425.67 484.03 427.74 482.87 428.70 482.90C429.66 482.93 431.13 484.92 432.00 484.80C432.87 484.68 434.25 482.35 435.20 482.00C436.15 481.65 438.23 482.52 439.10 482.20C439.97 481.88 440.91 479.91 441.70 479.60C442.49 479.29 444.13 480.15 445.00 479.90C445.87 479.65 447.43 477.82 448.20 477.70C448.97 477.58 449.93 478.88 450.80 479.00C451.67 479.12 453.57 478.43 454.70 478.60C455.83 478.77 458.09 479.73 459.30 480.30C460.51 480.87 462.76 482.03 463.80 482.90C464.84 483.77 465.97 485.85 467.10 486.80C468.23 487.75 471.25 489.55 472.30 490.00C473.35 490.45 474.08 489.99 475.00 490.20C475.92 490.41 478.19 491.67 479.20 491.60C480.21 491.53 481.68 489.43 482.60 489.70C483.52 489.97 485.17 493.91 486.10 493.60C487.03 493.29 488.76 488.79 489.60 487.40C490.44 486.01 491.48 483.44 492.40 483.20C493.32 482.96 495.49 485.32 496.50 485.60C497.51 485.88 498.88 484.78 500.00 485.30C501.12 485.82 503.79 489.31 504.90 489.50C506.01 489.69 507.38 487.45 508.30 486.70C509.22 485.95 510.87 483.90 511.80 483.90C512.73 483.90 514.37 486.79 515.30 486.70C516.23 486.61 517.69 483.11 518.80 483.20C519.91 483.29 522.40 487.16 523.60 487.40C524.80 487.64 526.87 484.39 527.80 485.00C528.73 485.61 529.68 491.31 530.60 492.00C531.52 492.69 533.59 491.19 534.70 490.20C535.81 489.21 537.61 486.59 538.90 484.60C540.19 482.61 543.29 476.46 544.40 475.30C545.51 474.14 546.83 475.82 547.20 475.90" fill="none" stroke="#be7676" stroke-width="3.45" stroke-linejoin="round" stroke-linecap="round"/>
<line x1="409" y1="482.6" x2="546.5" y2="486.1" stroke="#c8c8c8" stroke-width="1.6" stroke-dasharray="1.7 2.2" />
<text x="396.47" y="497.80" font-size="8.879" textLength="23.83" lengthAdjust="spacingAndGlyphs" fill="#333333" stroke="#333333" stroke-width="0.22" stroke-linejoin="round">67.3%</text>
<text x="539.28" y="471.00" font-size="9.309" textLength="23.62" lengthAdjust="spacingAndGlyphs" fill="#333333" stroke="#333333" stroke-width="0.22" stroke-linejoin="round">68.8%</text>
</svg></body></html>
